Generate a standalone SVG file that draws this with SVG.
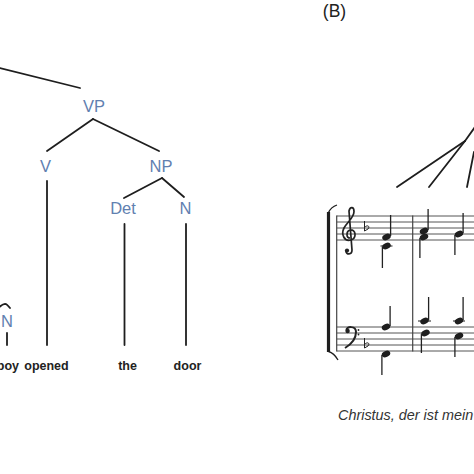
<svg xmlns="http://www.w3.org/2000/svg" width="474" height="474" viewBox="0 0 474 474">
<style>
.lbl{font-family:"Liberation Sans",Arial,sans-serif;font-size:16.5px;fill:#6180b0;text-anchor:middle}
.word{font-family:"Liberation Sans",Arial,sans-serif;font-size:12.5px;font-weight:bold;fill:#222;text-anchor:middle}
.edge{stroke:#1e1e1e;stroke-width:1.8;fill:none;stroke-linecap:round}
.staff{stroke:#555;stroke-width:1}
.bar{stroke:#444;stroke-width:1.2}
.stem{stroke:#222;stroke-width:1.3}
.ledger{stroke:#333;stroke-width:1.1}
.head{fill:#1e1e1e}
.sym{stroke:#222;fill:none}
</style>
<defs>
<ellipse id="nh" cx="0" cy="0" rx="4.4" ry="3.1" transform="rotate(-22)"/>
</defs>
<rect width="474" height="474" fill="#fff"/>

<g id="connectors">
<line class="edge" x1="0" y1="68" x2="80" y2="88"/>
<line class="edge" x1="93" y1="119" x2="47" y2="151"/>
<line class="edge" x1="93" y1="119" x2="159" y2="151"/>
<line class="edge" x1="47" y1="181" x2="47" y2="345"/>
<line class="edge" x1="162" y1="178" x2="124" y2="198"/>
<line class="edge" x1="162" y1="178" x2="184" y2="197"/>
<line class="edge" x1="124.5" y1="224" x2="124.5" y2="345"/>
<line class="edge" x1="186" y1="224" x2="186" y2="345"/>
<line class="edge" x1="7" y1="333" x2="7" y2="345"/>
<path class="edge" d="M-3 309.5 Q2 304 5 303.8 Q7 304 10 308"/>
<line class="edge" x1="397" y1="187" x2="465" y2="141"/>
<line class="edge" x1="429" y1="187" x2="465" y2="141"/>
<line class="edge" x1="465" y1="141" x2="475" y2="127"/>
<line class="edge" x1="467" y1="187" x2="474" y2="152"/>
</g>

<g id="node-VP"><text class="lbl" x="94" y="112">VP</text></g>
<g id="node-V"><text class="lbl" x="45.5" y="172">V</text></g>
<g id="node-NP"><text class="lbl" x="161" y="172">NP</text></g>
<g id="node-Det"><text class="lbl" x="123" y="214">Det</text></g>
<g id="node-N"><text class="lbl" x="185.5" y="214">N</text></g>
<g id="node-N-left"><text class="lbl" x="7" y="327">N</text></g>
<g id="word-boy"><text class="word" x="19" y="370" style="text-anchor:end">boy</text></g>
<g id="word-opened"><text class="word" x="46.5" y="370">opened</text></g>
<g id="word-the"><text class="word" x="127.5" y="370">the</text></g>
<g id="word-door"><text class="word" x="187.5" y="370">door</text></g>

<g id="label-B"><text x="334.5" y="17" font-family="Liberation Sans, Arial, sans-serif" font-size="17.5" fill="#222" text-anchor="middle">(B)</text></g>

<g id="score">
<path d="M328.5 212 L328.5 352" stroke="#1e1e1e" stroke-width="3.2" fill="none"/>
<path d="M328.5 212.5 Q331 207 337 205" stroke="#1e1e1e" stroke-width="1.3" fill="none"/>
<path d="M328.5 351.5 Q334 353 338 360" stroke="#1e1e1e" stroke-width="1.3" fill="none"/>
<g class="staff">
<line x1="336.7" y1="216" x2="474" y2="216"/>
<line x1="336.7" y1="222" x2="474" y2="222"/>
<line x1="336.7" y1="228" x2="474" y2="228"/>
<line x1="336.7" y1="234" x2="474" y2="234"/>
<line x1="336.7" y1="240" x2="474" y2="240"/>
<line x1="336.7" y1="327" x2="474" y2="327"/>
<line x1="336.7" y1="333" x2="474" y2="333"/>
<line x1="336.7" y1="339" x2="474" y2="339"/>
<line x1="336.7" y1="345" x2="474" y2="345"/>
<line x1="336.7" y1="351" x2="474" y2="351"/>
</g>
<line class="bar" x1="336.7" y1="215.5" x2="336.7" y2="351.5"/>
<line class="bar" x1="412.7" y1="215.5" x2="412.7" y2="351.5"/>
<path class="sym" stroke-width="1.7" d="M350 238 C346 238 346 231 350 230 C356 229 357 238 351 240 C344 242 341 234 344 228 C347 222 354 218 354 211.5 C354 206.5 350 206.5 349 211 L352 250 C352 255 346 255 346 251"/>
<circle cx="347" cy="250.5" r="2.1" fill="#222"/>
<path class="sym" stroke-width="1" d="M364.5 221 L364.5 231 M364.5 227.5 C367 224.5 370.5 226 368 229 L364.5 231"/>
<path class="sym" stroke-width="2" d="M346.5 330.5 C346 326 356 325.5 356 332 C356 340 350 345 345 348"/>
<circle cx="347.6" cy="331" r="2.2" fill="#222"/>
<circle cx="358.5" cy="330" r="0.9" fill="#222"/>
<circle cx="358.5" cy="334.5" r="0.9" fill="#222"/>
<path class="sym" stroke-width="1" d="M364.5 338 L364.5 348 M364.5 344.5 C367 341.5 370.5 343 368 346 L364.5 348"/>
<line class="ledger" x1="380.5" y1="246" x2="392.5" y2="246"/>
<use href="#nh" class="head" x="386.5" y="237"/>
<line class="stem" x1="390.6" y1="236" x2="390.6" y2="215"/>
<use href="#nh" class="head" x="386.5" y="246"/>
<line class="stem" x1="382.4" y1="247" x2="382.4" y2="268"/>
<use href="#nh" class="head" x="386" y="327"/>
<line class="stem" x1="390.1" y1="326" x2="390.1" y2="306"/>
<use href="#nh" class="head" x="386" y="354"/>
<line class="stem" x1="381.9" y1="355" x2="381.9" y2="375"/>
<use href="#nh" class="head" x="424" y="231"/>
<use href="#nh" class="head" x="424" y="237"/>
<line class="stem" x1="428.1" y1="230" x2="428.1" y2="209"/>
<line class="stem" x1="419.9" y1="238" x2="419.9" y2="258"/>
<line class="ledger" x1="418" y1="321" x2="431" y2="321"/>
<use href="#nh" class="head" x="424.5" y="321"/>
<line class="stem" x1="428.6" y1="320" x2="428.6" y2="297"/>
<use href="#nh" class="head" x="425.5" y="333"/>
<line class="stem" x1="421.4" y1="334" x2="421.4" y2="353"/>
<use href="#nh" class="head" x="459" y="234"/>
<line class="stem" x1="463.1" y1="233" x2="463.1" y2="213"/>
<line class="stem" x1="454.9" y1="235" x2="454.9" y2="255"/>
<line class="ledger" x1="453" y1="321" x2="465" y2="321"/>
<use href="#nh" class="head" x="459" y="321"/>
<line class="stem" x1="463.1" y1="320" x2="463.1" y2="297"/>
<use href="#nh" class="head" x="459" y="336"/>
<line class="stem" x1="454.9" y1="337" x2="454.9" y2="357"/>
</g>

<g id="caption"><text x="338" y="420" font-family="Liberation Sans, Arial, sans-serif" font-size="14.4" font-style="italic" fill="#333">Christus, der ist mein</text></g>
</svg>
